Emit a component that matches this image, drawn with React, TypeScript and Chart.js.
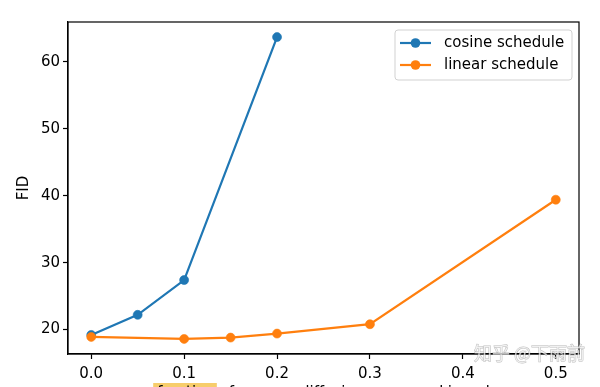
import React, { useEffect, useRef } from "react";
import { Chart, registerables } from "chart.js";

Chart.register(...registerables);

const xCosine = [0, 0.05, 0.1, 0.2];
const yCosine = [19.2, 22.2, 27.4, 63.7];
const xLinear = [0, 0.1, 0.15, 0.2, 0.3, 0.5];
const yLinear = [18.9, 18.6, 18.8, 19.4, 20.8, 39.4];
const xTicks = [0, 0.1, 0.2, 0.3, 0.4, 0.5];
const yTicks = [20, 30, 40, 50, 60];
const seriesNames = ["cosine schedule", "linear schedule"];
const seriesColors = ["#1f77b4", "#ff7f0e"];
const xTitle = "fraction of reverse diffusion process skipped";
const highlightWord = "fraction";
const yTitle = "FID";
const watermark = "知乎 @下雨前";

const FONT = "DejaVu Sans";
const W = 600;
const H = 403;
const PLOT_BOTTOM = 354;

export default function App() {
  const ref = useRef<HTMLCanvasElement | null>(null);

  useEffect(() => {
    const canvas = ref.current;
    if (!canvas) return;

    const decor = {
      id: "decor",
      beforeDraw(chart: any) {
        const ctx = chart.ctx;
        ctx.save();
        ctx.fillStyle = "#ffffff";
        ctx.fillRect(0, 0, chart.width, chart.height);
        const ca = chart.chartArea;
        ctx.font = `15px "${FONT}"`;
        const full = ctx.measureText(xTitle).width;
        const start = (ca.left + ca.right) / 2 - full / 2;
        const ww = ctx.measureText(highlightWord).width;
        ctx.fillStyle = "#f7cd6b";
        ctx.fillRect(start - 4, 383, ww + 6, 20);
        ctx.restore();
      },
      afterDatasetsDraw(chart: any) {
        const ctx = chart.ctx;
        const ca = chart.chartArea;
        ctx.save();
        ctx.strokeStyle = "#000000";
        ctx.lineWidth = 1.2;
        ctx.strokeRect(ca.left, ca.top, ca.right - ca.left, ca.bottom - ca.top);
        ctx.restore();
      },
      afterDraw(chart: any) {
        const ctx = chart.ctx;
        ctx.save();
        const bx = 395, by = 30, bw = 177, bh = 50, r = 3;
        ctx.beginPath();
        ctx.moveTo(bx + r, by);
        ctx.lineTo(bx + bw - r, by);
        ctx.arcTo(bx + bw, by, bx + bw, by + r, r);
        ctx.lineTo(bx + bw, by + bh - r);
        ctx.arcTo(bx + bw, by + bh, bx + bw - r, by + bh, r);
        ctx.lineTo(bx + r, by + bh);
        ctx.arcTo(bx, by + bh, bx, by + bh - r, r);
        ctx.lineTo(bx, by + r);
        ctx.arcTo(bx, by, bx + r, by, r);
        ctx.closePath();
        ctx.fillStyle = "rgba(255,255,255,0.8)";
        ctx.fill();
        ctx.strokeStyle = "rgba(204,204,204,0.9)";
        ctx.lineWidth = 1;
        ctx.stroke();
        const rows = [43, 65];
        for (let i = 0; i < seriesNames.length; i++) {
          const yy = rows[i];
          ctx.strokeStyle = seriesColors[i];
          ctx.lineWidth = 2.2;
          ctx.beginPath();
          ctx.moveTo(400, yy);
          ctx.lineTo(431, yy);
          ctx.stroke();
          ctx.fillStyle = seriesColors[i];
          ctx.beginPath();
          ctx.arc(415.5, yy, 4.8, 0, Math.PI * 2);
          ctx.fill();
          ctx.fillStyle = "#000000";
          ctx.font = `15px "${FONT}"`;
          ctx.textBaseline = "middle";
          ctx.textAlign = "left";
          ctx.fillText(seriesNames[i], 444, yy);
        }
        ctx.font = `18px "Noto Sans CJK SC"`;
        ctx.textBaseline = "middle";
        ctx.textAlign = "left";
        ctx.lineWidth = 1;
        ctx.strokeStyle = "rgba(110,110,110,0.45)";
        ctx.fillStyle = "rgba(255,255,255,0.7)";
        ctx.strokeText(watermark, 474, 353);
        ctx.fillText(watermark, 474, 353);
        ctx.restore();
      },
    };

    const chart = new Chart(canvas, {
      type: "line",
      data: {
        datasets: [
          {
            label: seriesNames[0],
            data: xCosine.map((x, i) => ({ x, y: yCosine[i] })),
            borderColor: seriesColors[0],
            backgroundColor: seriesColors[0],
            pointBackgroundColor: seriesColors[0],
            pointBorderColor: seriesColors[0],
            borderWidth: 2.2,
            pointRadius: 4.5,
            pointBorderWidth: 0.6,
            tension: 0,
            fill: false,
            order: 1,
          },
          {
            label: seriesNames[1],
            data: xLinear.map((x, i) => ({ x, y: yLinear[i] })),
            borderColor: seriesColors[1],
            backgroundColor: seriesColors[1],
            pointBackgroundColor: seriesColors[1],
            pointBorderColor: seriesColors[1],
            borderWidth: 2.2,
            pointRadius: 4.5,
            pointBorderWidth: 0.6,
            tension: 0,
            fill: false,
            order: 0,
          },
        ],
      },
      options: {
        animation: false,
        responsive: false,
        maintainAspectRatio: false,
        devicePixelRatio: 1,
        layout: { padding: { top: 22, right: 21, bottom: 0, left: 0 } },
        plugins: {
          legend: { display: false },
          tooltip: { enabled: false },
          title: { display: false },
        },
        scales: {
          x: {
            type: "linear",
            min: -0.025,
            max: 0.525,
            afterBuildTicks: (s: any) => {
              s.ticks = xTicks.map((v) => ({ value: v }));
            },
            afterFit: (s: any) => {
              s.height = H - PLOT_BOTTOM;
            },
            grid: {
              drawOnChartArea: false,
              drawTicks: true,
              tickLength: 5,
              tickColor: "#000000",
              tickWidth: 1.2,
            },
            border: { display: true, color: "#000000", width: 1.2 },
            ticks: {
              color: "#000000",
              font: { family: FONT, size: 15 },
              padding: 6,
              maxRotation: 0,
              autoSkip: false,
              callback: (v: any) => Number(v).toFixed(1),
            },
            title: {
              display: true,
              text: xTitle,
              color: "#000000",
              font: { family: FONT, size: 15 },
              padding: { top: 0, bottom: 1 },
            },
          },
          y: {
            type: "linear",
            min: 16.35,
            max: 65.95,
            afterBuildTicks: (s: any) => {
              s.ticks = yTicks.map((v) => ({ value: v }));
            },
            afterFit: (s: any) => {
              s.width = 68;
            },
            grid: {
              drawOnChartArea: false,
              drawTicks: true,
              tickLength: 5,
              tickColor: "#000000",
              tickWidth: 1.2,
            },
            border: { display: true, color: "#000000", width: 1.2 },
            ticks: {
              color: "#000000",
              font: { family: FONT, size: 15 },
              padding: 3,
              autoSkip: false,
              callback: (v: any) => String(v),
            },
            title: {
              display: true,
              text: yTitle,
              color: "#000000",
              font: { family: FONT, size: 15 },
              padding: { top: 15, bottom: 0 },
            },
          },
        },
      },
      plugins: [decor],
    });

    return () => chart.destroy();
  }, []);

  return (
    <div
      style={{
        position: "fixed",
        left: 0,
        top: 0,
        width: 600,
        height: 387,
        overflow: "hidden",
        background: "#fff",
      }}
    >
      <canvas ref={ref} width={W} height={H} style={{ width: W, height: H, display: "block" }} />
    </div>
  );
}
